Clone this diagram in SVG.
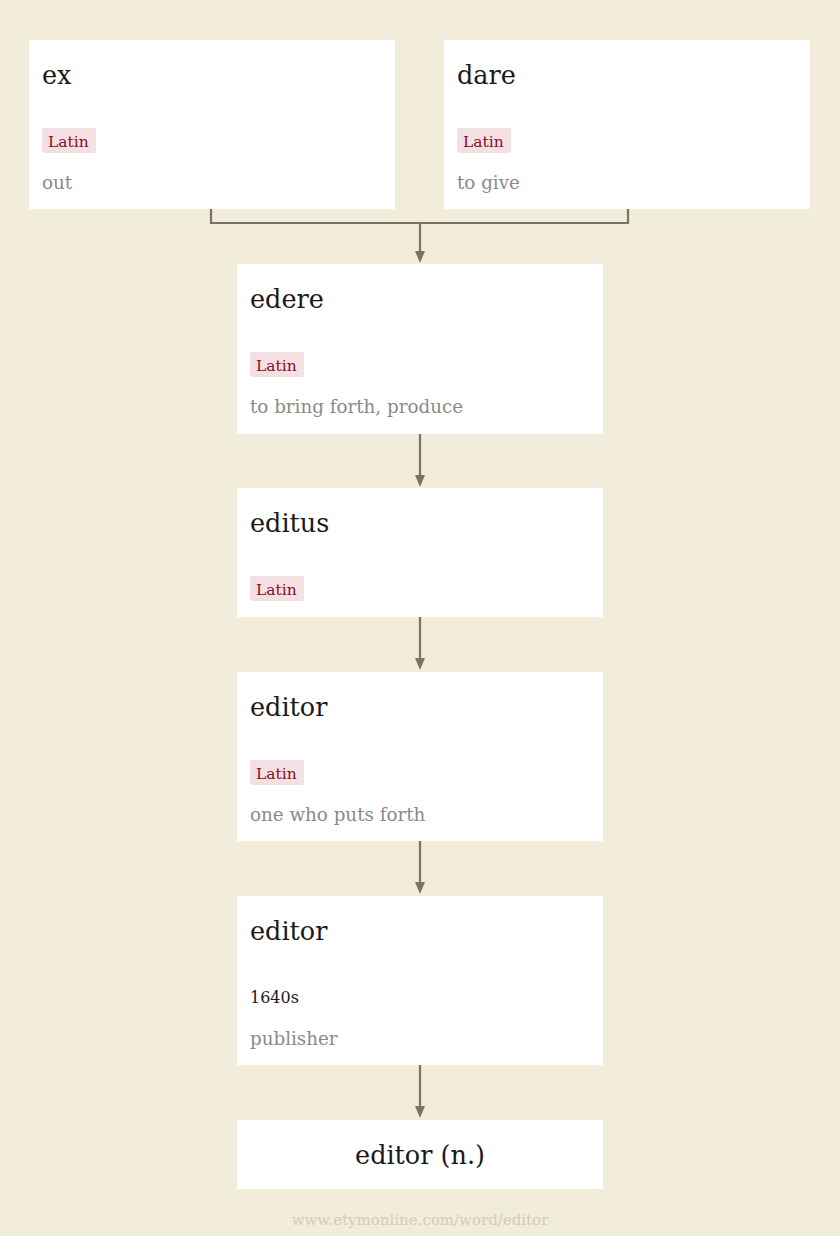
<svg xmlns="http://www.w3.org/2000/svg" width="840" height="1236" viewBox="0 0 840 1236">
<defs>
<style>
.box{fill:#ffffff}
.title{font-family:"DejaVu Serif","Liberation Serif",serif;font-size:25.5px;fill:#1a1a1a}
.tag{fill:#f2e0e3}
.tagt{font-family:"DejaVu Serif","Liberation Serif",serif;font-size:15.5px;fill:#8b0c26}
.mean{font-family:"DejaVu Serif","Liberation Serif",serif;font-size:18.3px;fill:#8a8a8a}
.date{font-family:"DejaVu Serif","Liberation Serif",serif;font-size:16px;fill:#1a1a1a}
.conn{fill:none;stroke:#7a7262;stroke-width:2.2}
.head{fill:#7a7262}
.foot{font-family:"DejaVu Serif","Liberation Serif",serif;font-size:15px;fill:#d3cbb9}
</style>
</defs>
<rect width="840" height="1236" fill="#f2ecdb"/>
<g id="connectors">
<path class="conn" d="M211,209 V223 H628 V209"/>
<path class="conn" d="M420,223 V252"/>
<path class="head" d="M415,251 L425,251 L420,263 Z"/>
<path class="conn" d="M420,434 V476"/>
<path class="head" d="M415,475 L425,475 L420,487 Z"/>
<path class="conn" d="M420,617 V659"/>
<path class="head" d="M415,658 L425,658 L420,670 Z"/>
<path class="conn" d="M420,841 V883"/>
<path class="head" d="M415,882 L425,882 L420,894 Z"/>
<path class="conn" d="M420,1065 V1107"/>
<path class="head" d="M415,1106 L425,1106 L420,1118 Z"/>
</g>
<g id="node-ex">
<rect class="box" x="29" y="40" width="366" height="169"/>
<text class="title" x="42" y="84">ex</text>
<rect class="tag" x="42" y="128" width="54" height="25" rx="2"/>
<text class="tagt" x="48" y="147">Latin</text>
<text class="mean" x="42" y="189">out</text>
</g>
<g id="node-dare">
<rect class="box" x="444" y="40" width="366" height="169"/>
<text class="title" x="457" y="84">dare</text>
<rect class="tag" x="457" y="128" width="54" height="25" rx="2"/>
<text class="tagt" x="463" y="147">Latin</text>
<text class="mean" x="457" y="189">to give</text>
</g>
<g id="node-edere">
<rect class="box" x="237" y="264" width="366" height="170"/>
<text class="title" x="250" y="308">edere</text>
<rect class="tag" x="250" y="352" width="54" height="25" rx="2"/>
<text class="tagt" x="256" y="371">Latin</text>
<text class="mean" x="250" y="413">to bring forth, produce</text>
</g>
<g id="node-editus">
<rect class="box" x="237" y="488" width="366" height="129"/>
<text class="title" x="250" y="532">editus</text>
<rect class="tag" x="250" y="576" width="54" height="25" rx="2"/>
<text class="tagt" x="256" y="595">Latin</text>
</g>
<g id="node-editor-latin">
<rect class="box" x="237" y="672" width="366" height="169"/>
<text class="title" x="250" y="716">editor</text>
<rect class="tag" x="250" y="760" width="54" height="25" rx="2"/>
<text class="tagt" x="256" y="779">Latin</text>
<text class="mean" x="250" y="821">one who puts forth</text>
</g>
<g id="node-editor-1640s">
<rect class="box" x="237" y="896" width="366" height="169"/>
<text class="title" x="250" y="940">editor</text>
<text class="date" x="250" y="1003">1640s</text>
<text class="mean" x="250" y="1045">publisher</text>
</g>
<g id="node-editor-n">
<rect class="box" x="237" y="1120" width="366" height="69"/>
<text class="title" x="420" y="1164" text-anchor="middle">editor (n.)</text>
</g>
<text class="foot" x="420" y="1225" text-anchor="middle">www.etymonline.com/word/editor</text>
</svg>
